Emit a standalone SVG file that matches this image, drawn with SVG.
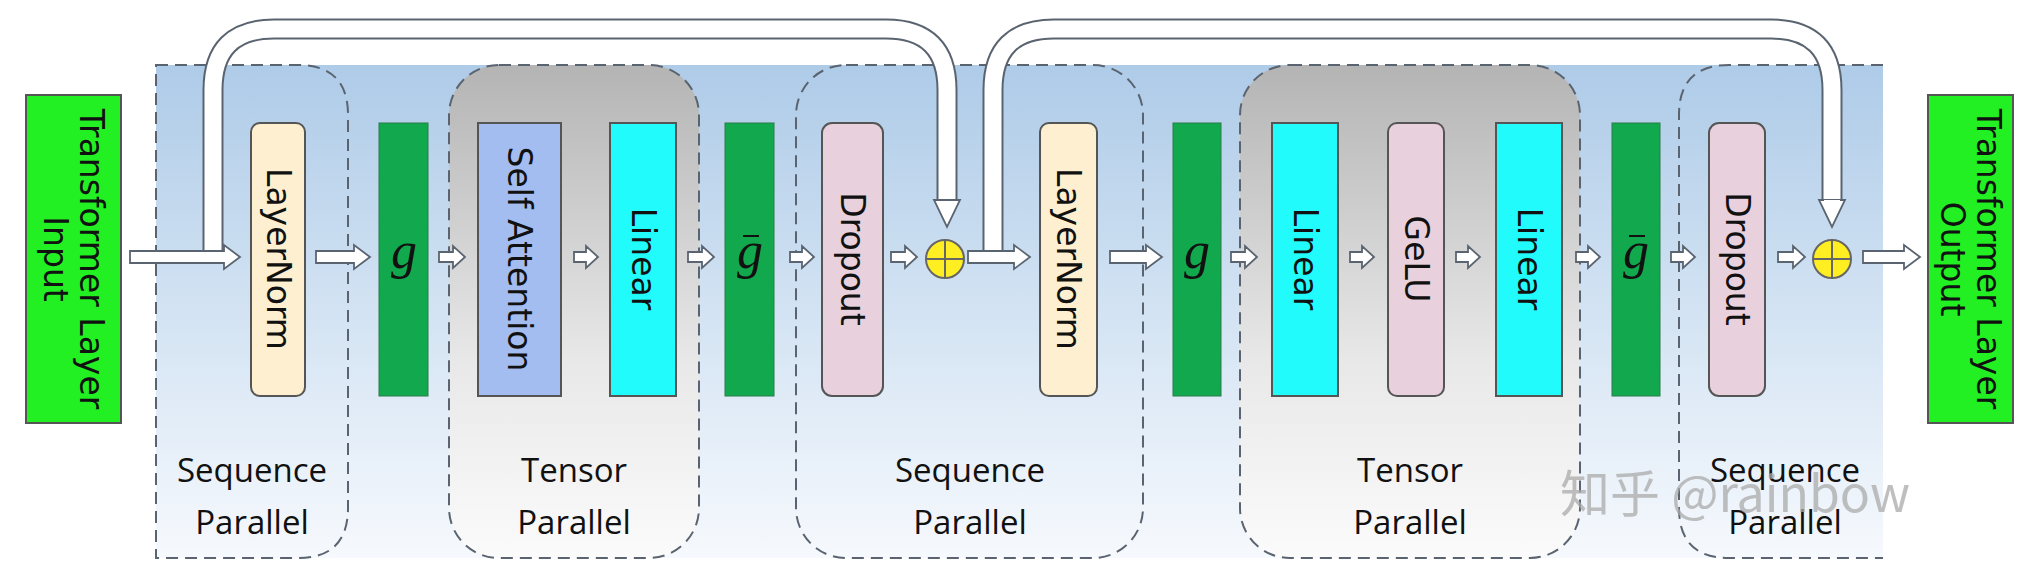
<svg xmlns="http://www.w3.org/2000/svg" width="2036" height="576" viewBox="0 0 2036 576">
<defs>
<linearGradient id="bl" x1="0" y1="0" x2="0" y2="1"><stop offset="0" stop-color="#aecbe8"/><stop offset="0.5" stop-color="#d3e3f3"/><stop offset="1" stop-color="#f6f9fd"/></linearGradient>
<linearGradient id="gr" x1="0" y1="0" x2="0" y2="1"><stop offset="0" stop-color="#b4b4b4"/><stop offset="0.6" stop-color="#e8e8e8"/><stop offset="1" stop-color="#fbfbfb"/></linearGradient>
<style>
.grp{stroke:#5a6470;stroke-width:2;stroke-dasharray:12 7}
.bx{stroke:#555;stroke-width:2}
.vt{font-family:"DejaVu Sans","Liberation Sans",sans-serif;font-size:33px;fill:#111;text-anchor:middle;dominant-baseline:central}
.gl{font-family:"Open Sans","Liberation Sans",sans-serif;font-size:33px;fill:#111;text-anchor:middle}
.g{font-family:"Liberation Serif",serif;font-style:italic;font-size:52px;fill:#111;text-anchor:middle}
.ar{fill:#fff;stroke:#5a6470;stroke-width:1.8;stroke-linejoin:miter}
</style>
</defs>
<rect x="156" y="65" width="1727" height="493" fill="url(#bl)"/>
<g id="groups">
<path class="grp" d="M156 65 H298 Q348 65 348 115 V508 Q348 558 298 558 H156 Z" fill="url(#bl)"/>
<rect class="grp" x="449" y="65" width="250" height="493" rx="50" fill="url(#gr)"/>
<rect class="grp" x="796" y="65" width="347" height="493" rx="50" fill="url(#bl)"/>
<rect class="grp" x="1240" y="65" width="340" height="493" rx="50" fill="url(#gr)"/>
<path class="grp" d="M1883 65 H1729 Q1679 65 1679 115 V508 Q1679 558 1729 558 H1883" fill="url(#bl)"/>
<text class="gl" x="252" y="482">Sequence</text><text class="gl" x="252" y="534">Parallel</text>
<text class="gl" x="574" y="482">Tensor</text><text class="gl" x="574" y="534">Parallel</text>
<text class="gl" x="970" y="482">Sequence</text><text class="gl" x="970" y="534">Parallel</text>
<text class="gl" x="1410" y="482">Tensor</text><text class="gl" x="1410" y="534">Parallel</text>
<text class="gl" x="1785" y="482">Sequence</text><text class="gl" x="1785" y="534">Parallel</text>
</g>
<g id="connectors">
<path d="M213 257 V90 Q213 29 274 29 H886 Q947 29 947 90 V205" fill="none" stroke="#5a6470" stroke-width="21"/>
<path d="M213 257 V90 Q213 29 274 29 H886 Q947 29 947 90 V205" fill="none" stroke="#fff" stroke-width="17"/>
<path d="M993 257 V90 Q993 29 1054 29 H1771 Q1832 29 1832 90 V205" fill="none" stroke="#5a6470" stroke-width="21"/>
<path d="M993 257 V90 Q993 29 1054 29 H1771 Q1832 29 1832 90 V205" fill="none" stroke="#fff" stroke-width="17"/>
<polygon class="ar" points="934,200 960,200 947,227"/>
<polygon class="ar" points="1819,200 1845,200 1832,227"/>
<rect x="205" y="200" width="16" height="4" fill="#fff"/>
<rect x="1824" y="200" width="16" height="4" fill="#fff"/>
<polygon class="ar" points="130,251 224,251 224,245 240,257 224,269 224,263 130,263"/>
<polygon class="ar" points="316,251 354,251 354,245 370,257 354,269 354,263 316,263"/>
<polygon class="ar" points="439,252 453,252 453,246 465,257 453,268 453,262 439,262"/>
<polygon class="ar" points="574,252 586,252 586,246 598,257 586,268 586,262 574,262"/>
<polygon class="ar" points="688,252 702,252 702,246 714,257 702,268 702,262 688,262"/>
<polygon class="ar" points="790,252 802,252 802,246 814,257 802,268 802,262 790,262"/>
<polygon class="ar" points="891,252 905,252 905,246 917,257 905,268 905,262 891,262"/>
<polygon class="ar" points="968,251 1014,251 1014,245 1030,257 1014,269 1014,263 968,263"/>
<polygon class="ar" points="1110,251 1146,251 1146,245 1162,257 1146,269 1146,263 1110,263"/>
<polygon class="ar" points="1231,252 1245,252 1245,246 1257,257 1245,268 1245,262 1231,262"/>
<polygon class="ar" points="1350,252 1362,252 1362,246 1374,257 1362,268 1362,262 1350,262"/>
<polygon class="ar" points="1456,252 1468,252 1468,246 1480,257 1468,268 1468,262 1456,262"/>
<polygon class="ar" points="1576,252 1588,252 1588,246 1600,257 1588,268 1588,262 1576,262"/>
<polygon class="ar" points="1671,252 1683,252 1683,246 1695,257 1683,268 1683,262 1671,262"/>
<polygon class="ar" points="1778,252 1793,252 1793,246 1805,257 1793,268 1793,262 1778,262"/>
<polygon class="ar" points="1863,251 1904,251 1904,245 1920,257 1904,269 1904,263 1863,263"/>
</g>
<g id="input"><rect class="bx" x="26" y="95" width="95" height="328" fill="#22f022" stroke="#2a7a2a"/><text class="vt" transform="translate(73.5 259) rotate(90)"><tspan x="0" dy="-18">Transformer Layer</tspan><tspan x="0" dy="36">Input</tspan></text></g>
<g id="layernorm1"><rect class="bx" x="251" y="123" width="54" height="273" rx="9" fill="#fdefcf"/><text class="vt" transform="translate(278 259) rotate(90)">LayerNorm</text></g>
<g id="g1"><rect x="379" y="123" width="49" height="273" fill="#12a84e" stroke="#2a7a4a"/><text class="g" x="404" y="268">g</text></g>
<g id="selfattn"><rect class="bx" x="478" y="123" width="83" height="273" fill="#a4bdf0"/><text class="vt" transform="translate(519.5 259) rotate(90)">Self Attention</text></g>
<g id="linear1"><rect class="bx" x="610" y="123" width="66" height="273" fill="#22fbfb"/><text class="vt" transform="translate(643 259) rotate(90)">Linear</text></g>
<g id="gbar1"><rect x="725" y="123" width="49" height="273" fill="#12a84e" stroke="#2a7a4a"/><text class="g" x="750" y="268">g</text><line x1="743" y1="236" x2="759" y2="236" stroke="#111" stroke-width="2"/></g>
<g id="dropout1"><rect class="bx" x="822" y="123" width="61" height="273" rx="10" fill="#e8d0dc"/><text class="vt" transform="translate(852.5 259) rotate(90)">Dropout</text></g>
<g id="plus1"><circle cx="945" cy="259" r="19" fill="#ffee22" stroke="#666" stroke-width="2"/><path d="M926 259 H964 M945 240 V278" stroke="#666" stroke-width="2"/></g>
<g id="layernorm2"><rect class="bx" x="1040" y="123" width="57" height="273" rx="9" fill="#fdefcf"/><text class="vt" transform="translate(1068.5 259) rotate(90)">LayerNorm</text></g>
<g id="g2"><rect x="1173" y="123" width="48" height="273" fill="#12a84e" stroke="#2a7a4a"/><text class="g" x="1197" y="268">g</text></g>
<g id="linear2"><rect class="bx" x="1272" y="123" width="66" height="273" fill="#22fbfb"/><text class="vt" transform="translate(1305 259) rotate(90)">Linear</text></g>
<g id="gelu"><rect class="bx" x="1388" y="123" width="56" height="273" rx="9" fill="#e8d0dc"/><text class="vt" transform="translate(1416 259) rotate(90)">GeLU</text></g>
<g id="linear3"><rect class="bx" x="1496" y="123" width="66" height="273" fill="#22fbfb"/><text class="vt" transform="translate(1529 259) rotate(90)">Linear</text></g>
<g id="gbar2"><rect x="1612" y="123" width="48" height="273" fill="#12a84e" stroke="#2a7a4a"/><text class="g" x="1636" y="268">g</text><line x1="1629" y1="236" x2="1645" y2="236" stroke="#111" stroke-width="2"/></g>
<g id="dropout2"><rect class="bx" x="1709" y="123" width="56" height="273" rx="10" fill="#e8d0dc"/><text class="vt" transform="translate(1737 259) rotate(90)">Dropout</text></g>
<g id="plus2"><circle cx="1832" cy="259" r="19" fill="#ffee22" stroke="#666" stroke-width="2"/><path d="M1813 259 H1851 M1832 240 V278" stroke="#666" stroke-width="2"/></g>
<g id="output"><rect class="bx" x="1928" y="95" width="85" height="328" fill="#22f022" stroke="#2a7a2a"/><text class="vt" transform="translate(1970.5 259) rotate(90)"><tspan x="0" dy="-18">Transformer Layer</tspan><tspan x="0" dy="36">Output</tspan></text></g>
<text x="1560" y="512" font-family="'Noto Sans CJK SC','Liberation Sans',sans-serif" font-size="50" fill="#aaa" fill-opacity="0.75">知乎 @rainbow</text>
</svg>
